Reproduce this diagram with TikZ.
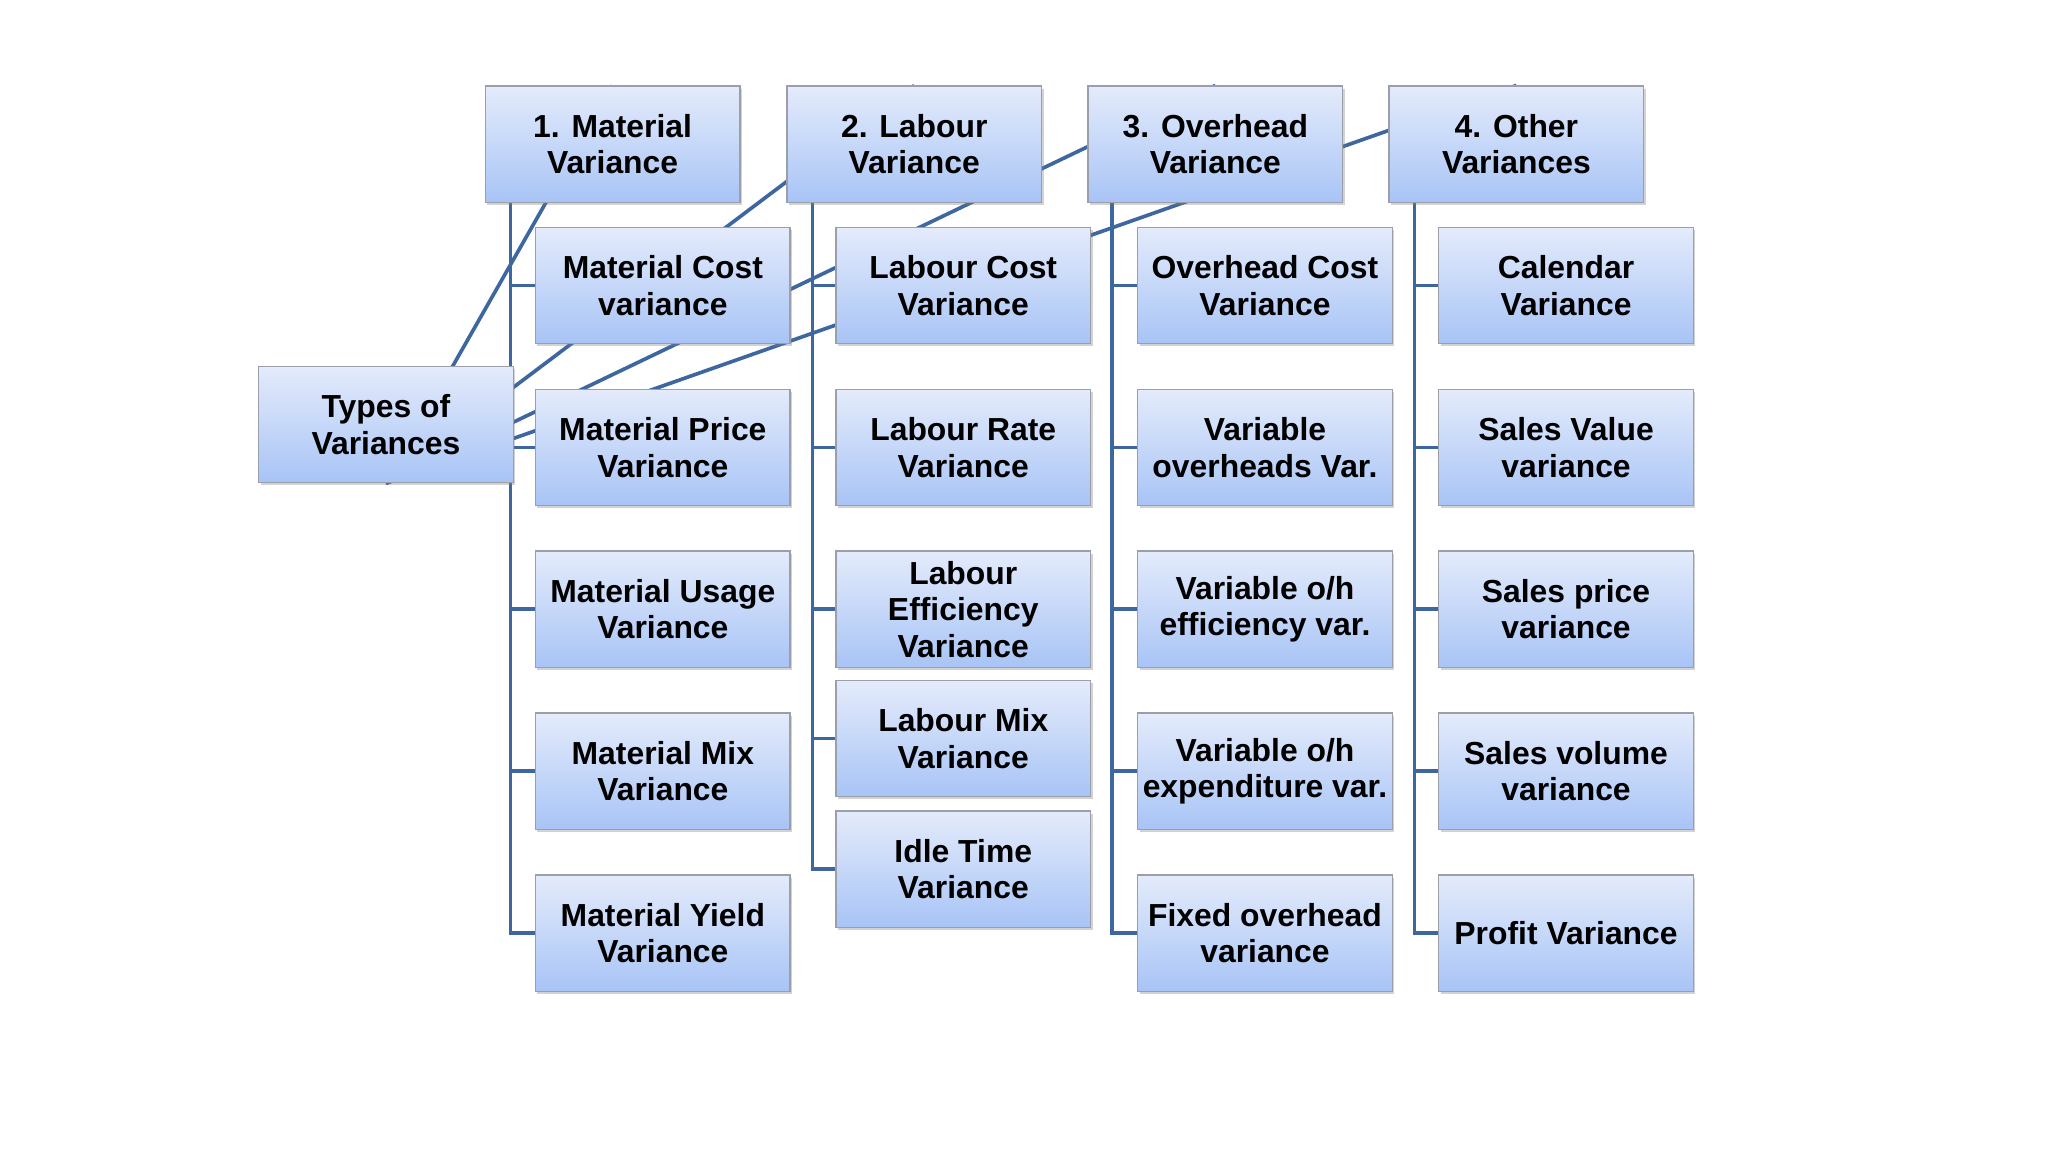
\documentclass[tikz,border=0pt]{standalone}
\usepackage{fontspec}
\setmainfont{Liberation Sans}
\usetikzlibrary{shadows,backgrounds,calc}
\definecolor{boxtop}{HTML}{E4EBFB}
\definecolor{boxbot}{HTML}{A8C4F6}
\definecolor{boxline}{HTML}{9A9FAA}
\definecolor{wire}{HTML}{3F679F}
\tikzset{
  vbox/.style={rectangle, draw=boxline, line width=1.1pt, top color=boxtop, bottom color=boxbot,
    minimum width=195pt, minimum height=89pt, inner sep=0pt, align=center,
    font=\fontsize{24.4}{28}\selectfont\bfseries, text=black,
    drop shadow={opacity=0.35, shadow xshift=1.5pt, shadow yshift=-2pt}},
  wireline/.style={draw=wire, line width=2.8pt},
  treeline/.style={draw=wire, line width=2.8pt}
}
\begin{document}
\begin{tikzpicture}[x=1pt,y=-1pt]
\useasboundingbox (0,0) rectangle (1568,882);
% root
\node[vbox] (types) at (295.5,325) {Types of\\Variances};
% heads
\node[vbox] (mat) at (469,110.5) {1. Material\\Variance};
\node[vbox] (lab) at (700,110.5) {2. Labour\\Variance};
\node[vbox] (ovh) at (930.5,110.5) {3. Overhead\\Variance};
\node[vbox] (oth) at (1161,110.5) {4. Other\\Variances};
% material column
\node[vbox] (m1) at (507.5,218.5) {Material Cost\\variance};
\node[vbox] (m2) at (507.5,342.5) {Material Price\\Variance};
\node[vbox] (m3) at (507.5,466.5) {Material Usage\\Variance};
\node[vbox] (m4) at (507.5,590.5) {Material Mix\\Variance};
\node[vbox] (m5) at (507.5,714.5) {Material Yield\\Variance};
% labour column
\node[vbox] (l1) at (737.5,218.5) {Labour Cost\\Variance};
\node[vbox] (l2) at (737.5,342.5) {Labour Rate\\Variance};
\node[vbox] (l3) at (737.5,466.5) {Labour\\Efficiency\\Variance};
\node[vbox] (l4) at (737.5,565.5) {Labour Mix\\Variance};
\node[vbox] (l5) at (737.5,665.5) {Idle Time\\Variance};
% overhead column
\node[vbox] (o1) at (968.5,218.5) {Overhead Cost\\Variance};
\node[vbox] (o2) at (968.5,342.5) {Variable\\overheads Var.};
\node[vbox] (o3) at (968.5,466.5) {Variable o/h\\efficiency var.};
\node[vbox] (o4) at (968.5,590.5) {Variable o/h\\expenditure var.};
\node[vbox] (o5) at (968.5,714.5) {Fixed overhead\\variance};
% other column
\node[vbox] (s1) at (1199,218.5) {Calendar\\Variance};
\node[vbox] (s2) at (1199,342.5) {Sales Value\\variance};
\node[vbox] (s3) at (1199,466.5) {Sales price\\variance};
\node[vbox] (s4) at (1199,590.5) {Sales volume\\variance};
\node[vbox] (s5) at (1199,714.5) {Profit Variance};
% bars
\coordinate (bm) at ($(mat.south west)+(20,0)$);
\coordinate (bl) at ($(lab.south west)+(20,0)$);
\coordinate (bo) at ($(ovh.south west)+(19,0)$);
\coordinate (bs) at ($(oth.south west)+(20,0)$);
\begin{pgfonlayer}{background}
\fill[white] (0,0) rectangle (1568,882);
\draw[wireline] (types.south) -- (mat.north);
\draw[wireline] (types.south) -- (lab.north);
\draw[wireline] (types.south) -- (ovh.north);
\draw[wireline] (types.south) -- (oth.north);
\draw[treeline] (bm) |- (m5.west);
\foreach \n in {m1,m2,m3,m4} \draw[treeline] (\n.west) -- (\n.west -| bm);
\draw[treeline] (bl) |- (l5.west);
\foreach \n in {l1,l2,l3,l4} \draw[treeline] (\n.west) -- (\n.west -| bl);
\draw[treeline] (bo) |- (o5.west);
\foreach \n in {o1,o2,o3,o4} \draw[treeline] (\n.west) -- (\n.west -| bo);
\draw[treeline] (bs) |- (s5.west);
\foreach \n in {s1,s2,s3,s4} \draw[treeline] (\n.west) -- (\n.west -| bs);
\end{pgfonlayer}
\end{tikzpicture}
\end{document}
